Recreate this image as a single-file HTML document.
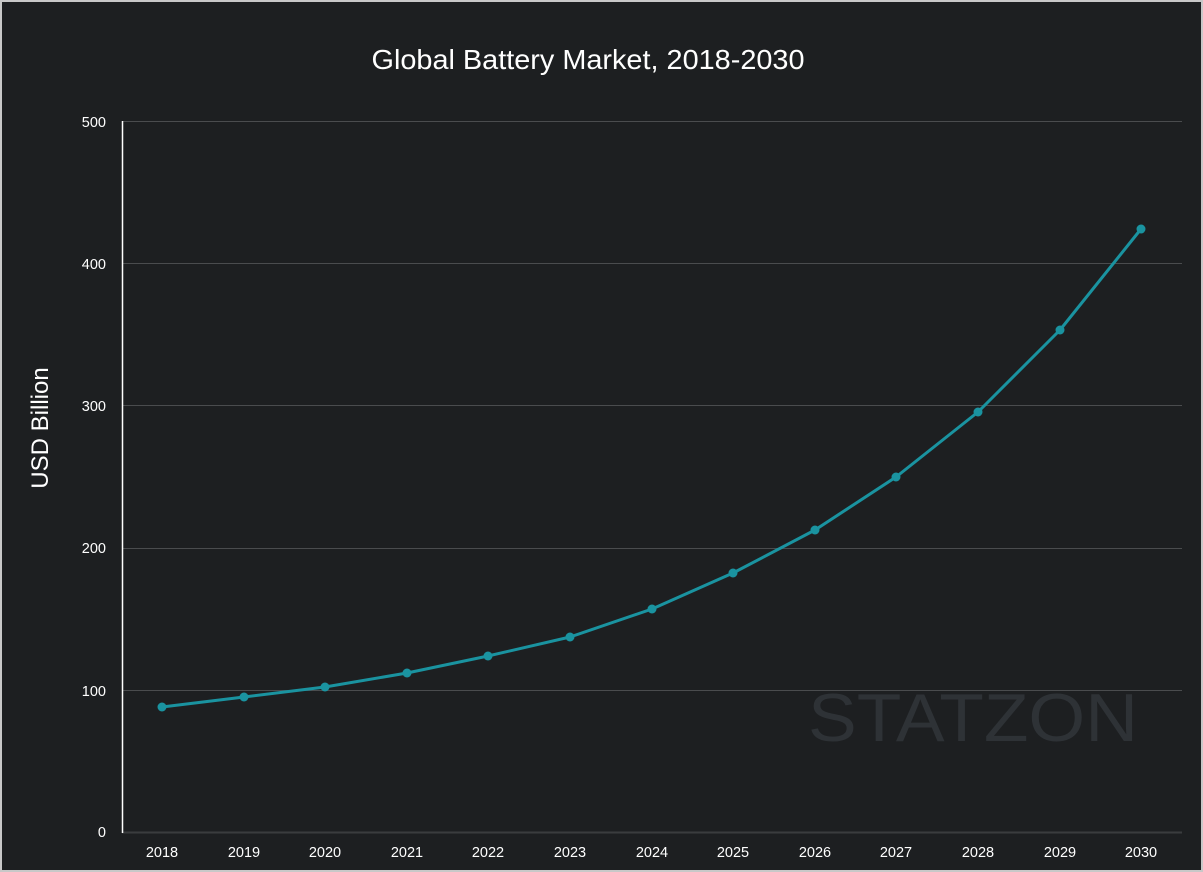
<!DOCTYPE html>
<html><head><style>
html,body{margin:0;padding:0;background:#1d1f21;}
svg{display:block;}
text{font-family:"Liberation Sans",sans-serif;fill:#fff;}
</style></head><body>
<svg width="1203" height="872" xmlns="http://www.w3.org/2000/svg">
<rect x="1" y="1" width="1201" height="870" fill="#1d1f21" stroke="#c8c8c8" stroke-width="2"/>
<text x="588" y="69" font-size="28" text-anchor="middle" textLength="433" lengthAdjust="spacingAndGlyphs">Global Battery Market, 2018-2030</text>
<text transform="translate(48,428) rotate(-90)" font-size="24" text-anchor="middle">USD Billion</text>
<g stroke="#4a4c4e" stroke-width="1">
<line x1="122" y1="121.5" x2="1182" y2="121.5"/>
<line x1="122" y1="263.5" x2="1182" y2="263.5"/>
<line x1="122" y1="405.5" x2="1182" y2="405.5"/>
<line x1="122" y1="548.5" x2="1182" y2="548.5"/>
<line x1="122" y1="690.5" x2="1182" y2="690.5"/>
</g>
<line x1="122" y1="832.5" x2="1182" y2="832.5" stroke="#3a3c3e" stroke-width="2"/>
<line x1="122.5" y1="121" x2="122.5" y2="833" stroke="#fff" stroke-width="1.5"/>
<g font-size="14.5" text-anchor="end">
<text x="106" y="127">500</text><text x="106" y="269">400</text><text x="106" y="411">300</text>
<text x="106" y="553">200</text><text x="106" y="696">100</text><text x="106" y="837">0</text>
</g>
<g font-size="14.5" text-anchor="middle">
<text x="162" y="857">2018</text><text x="244" y="857">2019</text><text x="325" y="857">2020</text>
<text x="407" y="857">2021</text><text x="488" y="857">2022</text><text x="570" y="857">2023</text>
<text x="652" y="857">2024</text><text x="733" y="857">2025</text><text x="815" y="857">2026</text>
<text x="896" y="857">2027</text><text x="978" y="857">2028</text><text x="1060" y="857">2029</text>
<text x="1141" y="857">2030</text>
</g>
<text x="808" y="741" font-size="68" textLength="330" lengthAdjust="spacingAndGlyphs" style="fill:#2e3236">STATZON</text>
<polyline fill="none" stroke="#1a93a0" stroke-width="3" stroke-linejoin="round"
points="162,707 244,697 325,687 407,673 488,656 570,637 652,609 733,573 815,530 896,477 978,412 1060,330 1141,229"/>
<g fill="#1a93a0">
<circle cx="162" cy="707" r="4.5"/><circle cx="244" cy="697" r="4.5"/><circle cx="325" cy="687" r="4.5"/>
<circle cx="407" cy="673" r="4.5"/><circle cx="488" cy="656" r="4.5"/><circle cx="570" cy="637" r="4.5"/>
<circle cx="652" cy="609" r="4.5"/><circle cx="733" cy="573" r="4.5"/><circle cx="815" cy="530" r="4.5"/>
<circle cx="896" cy="477" r="4.5"/><circle cx="978" cy="412" r="4.5"/><circle cx="1060" cy="330" r="4.5"/>
<circle cx="1141" cy="229" r="4.5"/>
</g>
</svg>
</body></html>
